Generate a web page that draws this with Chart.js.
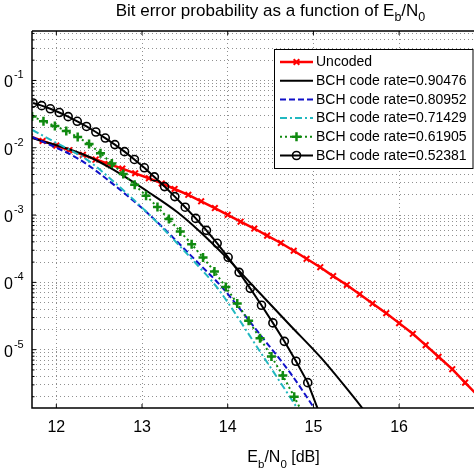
<!DOCTYPE html>
<html>
<head>
<meta charset="utf-8">
<title>Bit error probability</title>
<script src="https://cdn.jsdelivr.net/npm/chart.js@4.4.1/dist/chart.umd.min.js"></script>
<style>
  html, body { margin: 0; padding: 0; background: #fff; overflow: hidden; }
  #wrap { width: 474px; height: 474px; }
</style>
</head>
<body>
<div id="wrap"><canvas id="berChart" width="474" height="474"></canvas></div>
<script>
/* =======================
   DATA
======================= */
const seriesLabels = [
    "Uncoded",
    "BCH code rate=0.90476",
    "BCH code rate=0.80952",
    "BCH code rate=0.71429",
    "BCH code rate=0.61905",
    "BCH code rate=0.52381"
];

const uncodedX = [11.69, 11.84, 12.00, 12.15, 12.31, 12.46, 12.61, 12.77, 12.92, 13.08, 13.23, 13.38,
    13.54, 13.69, 13.85, 14.00, 14.15, 14.31, 14.46, 14.62, 14.77, 14.92, 15.08, 15.23, 15.39, 15.54,
    15.69, 15.85, 16.00, 16.16, 16.31, 16.46, 16.62, 16.77, 16.93];
const uncodedPe = [0.01479, 0.01262, 0.01076, 0.00920, 0.00785, 0.00671, 0.00574, 0.00491, 0.00417,
    0.00353, 0.00295, 0.00244, 0.00200, 0.00160, 0.00127, 0.00101, 7.98e-4, 6.31e-4, 4.95e-4, 3.85e-4,
    2.95e-4, 2.24e-4, 1.68e-4, 1.24e-4, 9.16e-5, 6.68e-5, 4.84e-5, 3.48e-5, 2.48e-5, 1.72e-5, 1.17e-5,
    7.85e-6, 5.13e-6, 3.24e-6, 2.00e-6];

const bch90X = [11.72, 12.36, 12.63, 13.09, 13.41, 13.68, 13.99, 14.34, 14.73, 15.08, 15.43, 15.57, 15.78];
const bch90Pe = [0.01400, 7.55e-3, 5.01e-3, 2.13e-3, 1.11e-3, 5.61e-4, 2.31e-4, 7.71e-5, 2.29e-5,
    7.80e-6, 2.28e-6, 1.36e-6, 6.0e-7];

const bch81X = [11.72, 12.28, 12.74, 13.09, 13.68, 13.93, 14.38, 14.73, 15.00, 15.19];
const bch81Pe = [0.01445, 6.58e-3, 2.40e-3, 1.00e-3, 1.81e-4, 8.55e-5, 1.66e-5, 4.51e-6, 1.41e-6, 6.0e-7];

const bch71X = [11.72, 12.04, 12.36, 12.72, 13.09, 13.68, 13.88, 14.38, 14.81, 14.96];
const bch71Pe = [0.01837, 0.01109, 6.61e-3, 2.75e-3, 1.00e-3, 1.62e-4, 8.26e-5, 9.25e-6, 1.36e-6, 6.9e-7];

const bch62X = [11.717, 11.850, 11.983, 12.116, 12.249, 12.382, 12.515, 12.648, 12.781, 12.914, 13.047,
    13.180, 13.313, 13.446, 13.579, 13.712, 13.845, 13.978, 14.111, 14.244, 14.377, 14.510, 14.643,
    14.776, 14.909];
const bch62Pe = [0.02911, 0.02483, 0.02109, 0.01770, 0.01445, 0.01135, 8.32e-3, 5.86e-3, 4.06e-3,
    2.81e-3, 1.94e-3, 1.32e-3, 8.71e-4, 5.69e-4, 3.70e-4, 2.34e-4, 1.45e-4, 8.51e-5, 4.84e-5, 2.69e-5,
    1.48e-5, 7.94e-6, 4.12e-6, 2.00e-6, 9.3e-7];

const bch52X = [11.728, 11.829, 11.930, 12.034, 12.138, 12.244, 12.352, 12.461, 12.571, 12.683, 12.796,
    12.911, 13.027, 13.144, 13.263, 13.383, 13.504, 13.627, 13.752, 13.877, 14.005, 14.133, 14.263,
    14.394, 14.527, 14.661, 14.797, 14.934, 15.072];
const bch52Pe = [0.04634, 0.04227, 0.03793, 0.03342, 0.02897, 0.02472, 0.02075, 0.01714, 0.01393,
    0.01114, 8.75e-3, 6.71e-3, 5.04e-3, 3.69e-3, 2.65e-3, 1.88e-3, 1.31e-3, 8.93e-4, 5.93e-4, 3.81e-4,
    2.36e-4, 1.41e-4, 8.15e-5, 4.57e-5, 2.50e-5, 1.33e-5, 6.73e-6, 3.24e-6, 1.12e-6];

const xTicks = [12, 13, 14, 15, 16];
const yTickExponents = [-1, -2, -3, -4, -5];
const yDecades = [1e-6, 1e-5, 1e-4, 1e-3, 1e-2, 1e-1];
const yMinorSteps = [1, 2, 3, 4, 5, 6, 7, 8, 9];

const X_MIN = 11.716, X_MAX = 16.874;
const Y_MIN = 1.36e-6, Y_MAX = 0.543;

const FONT = '"Liberation Sans", Arial, Helvetica, sans-serif';
const GRID_COLOR = "rgba(70,70,70,0.6)";

function toPoints(xs, ys) {
    return xs.map((x, i) => ({ x: x, y: ys[i] }));
}

/* log grid values (1..9 per decade) inside the axis range */
const yGridValues = [];
yDecades.forEach(d => {
    yMinorSteps.forEach(m => {
        const v = d * m;
        if (v >= Y_MIN && v <= Y_MAX) yGridValues.push(v);
    });
});

/* =======================
   TEXT HELPERS
======================= */
function richWidth(ctx, parts, size, subSize) {
    let w = 0;
    parts.forEach(p => {
        ctx.font = (p[1] ? subSize : size) + "px " + FONT;
        w += ctx.measureText(p[0]).width;
    });
    return w;
}

function drawRich(ctx, parts, cx, baseline, size, subSize, subShift) {
    let x = cx - richWidth(ctx, parts, size, subSize) / 2;
    ctx.textAlign = "left";
    ctx.textBaseline = "alphabetic";
    parts.forEach(p => {
        ctx.font = (p[1] ? subSize : size) + "px " + FONT;
        ctx.fillText(p[0], x, baseline + (p[1] ? subShift : 0));
        x += ctx.measureText(p[0]).width;
    });
}

/* =======================
   AXES BOX, LABELS, LEGEND
======================= */
const matlabFrame = {
    id: "matlabFrame",
    afterDraw(chart) {
        const ctx = chart.ctx;
        const area = chart.chartArea;
        const xs = chart.scales.x;
        const ys = chart.scales.y;

        ctx.save();
        ctx.fillStyle = "#000";
        ctx.strokeStyle = "#000";

        /* box */
        ctx.lineWidth = 1.5;
        ctx.beginPath();
        ctx.moveTo(area.left, area.top);
        ctx.lineTo(area.right + 2, area.top);
        ctx.moveTo(area.left, area.top);
        ctx.lineTo(area.left, area.bottom);
        ctx.lineTo(area.right + 2, area.bottom);
        ctx.stroke();

        /* tick marks (inside) */
        ctx.lineWidth = 1;
        ctx.beginPath();
        xTicks.forEach(v => {
            const px = xs.getPixelForValue(v);
            ctx.moveTo(px, area.bottom); ctx.lineTo(px, area.bottom - 4);
            ctx.moveTo(px, area.top); ctx.lineTo(px, area.top + 4);
        });
        yGridValues.forEach(v => {
            const py = ys.getPixelForValue(v);
            const major = yTickExponents.some(e => Math.abs(v - Math.pow(10, e)) < 1e-12);
            ctx.moveTo(area.left, py); ctx.lineTo(area.left + (major ? 4 : 2.5), py);
        });
        ctx.stroke();

        /* x tick labels */
        ctx.font = "16px " + FONT;
        ctx.textAlign = "center";
        ctx.textBaseline = "alphabetic";
        xTicks.forEach(v => {
            ctx.fillText(String(v), xs.getPixelForValue(v), 432);
        });

        /* y tick labels: 10^e, the leading "1" is cut off by the frame edge */
        yTickExponents.forEach(e => {
            const py = ys.getPixelForValue(Math.pow(10, e));
            ctx.textAlign = "left";
            ctx.font = "16px " + FONT;
            ctx.fillText("0", 4, py + 7);
            const w = ctx.measureText("0").width;
            ctx.font = "11px " + FONT;
            ctx.fillText(String(e), 4 + w + 1, py - 2);
        });

        /* title and axis label */
        drawRich(ctx, [["Bit error probability as a function of E", 0], ["b", 1], ["/N", 0], ["0", 1]],
            270.5, 16, 17, 12.5, 5);
        drawRich(ctx, [["E", 0], ["b", 1], ["/N", 0], ["0", 1], [" [dB]", 0]],
            283.5, 462, 16, 11.5, 6);

        /* legend */
        const lx = 274, ly = 49, lw = 200, lh = 119;
        ctx.fillStyle = "#fff";
        ctx.fillRect(lx, ly, lw, lh);
        ctx.lineWidth = 1;
        ctx.strokeStyle = "#000";
        ctx.strokeRect(lx + 0.5, ly + 0.5, lw - 1.5, lh);

        chart.data.datasets.forEach((ds, k) => {
            const cy = 62 + k * 18.7;
            ctx.save();
            ctx.strokeStyle = ds.borderColor;
            ctx.lineWidth = ds.borderWidth;
            ctx.setLineDash(ds.borderDash || []);
            ctx.beginPath();
            ctx.moveTo(280, cy);
            ctx.lineTo(313, cy);
            ctx.stroke();
            ctx.restore();
            if (ds.pointRadius > 0) {
                ctx.save();
                ctx.strokeStyle = ds.pointBorderColor;
                ctx.fillStyle = ds.pointBackgroundColor;
                ctx.lineWidth = ds.pointBorderWidth;
                ctx.setLineDash([]);
                Chart.helpers.drawPoint(ctx, {
                    pointStyle: ds.pointStyle,
                    radius: ds.pointRadius,
                    borderWidth: ds.pointBorderWidth,
                    rotation: 0
                }, 296.5, cy);
                ctx.restore();
            }
            ctx.fillStyle = "#000";
            ctx.font = "14px " + FONT;
            ctx.textAlign = "left";
            ctx.textBaseline = "middle";
            ctx.fillText(seriesLabels[k], 316, cy + 0.5);
        });

        ctx.restore();
    }
};

/* =======================
   CHART
======================= */
function lineSet(k, xs, ys, style) {
    return Object.assign({
        label: seriesLabels[k],
        data: toPoints(xs, ys),
        fill: false,
        clip: 0,
        borderWidth: 2,
        pointRadius: 0,
        pointHoverRadius: 0,
        pointBorderWidth: 1.5,
        pointBackgroundColor: "rgba(0,0,0,0)",
        order: 5 - k
    }, style);
}

new Chart(document.getElementById("berChart"), {
    type: "line",
    data: {
        datasets: [
            lineSet(0, uncodedX, uncodedPe, {
                borderColor: "#ff0000", borderWidth: 2.5,
                pointStyle: "crossRot", pointRadius: 4, pointBorderWidth: 2,
                pointBorderColor: "#ff0000"
            }),
            lineSet(1, bch90X, bch90Pe, {
                borderColor: "#000000", borderWidth: 2, cubicInterpolationMode: "monotone"
            }),
            lineSet(2, bch81X, bch81Pe, {
                borderColor: "#1010c8", borderWidth: 2, borderDash: [6, 3],
                cubicInterpolationMode: "monotone"
            }),
            lineSet(3, bch71X, bch71Pe, {
                borderColor: "#22b8c0", borderWidth: 2, borderDash: [7, 3, 2, 3],
                cubicInterpolationMode: "monotone"
            }),
            lineSet(4, bch62X, bch62Pe, {
                borderColor: "#108a10", borderWidth: 2, borderDash: [2, 3],
                pointStyle: "cross", pointRadius: 4.5, pointBorderWidth: 2.5,
                pointBorderColor: "#108a10"
            }),
            lineSet(5, bch52X, bch52Pe, {
                borderColor: "#000000", borderWidth: 2,
                pointStyle: "circle", pointRadius: 4, pointBorderWidth: 1.6,
                pointBorderColor: "#000000"
            })
        ]
    },
    options: {
        responsive: false,
        animation: false,
        layout: { autoPadding: false, padding: { top: 31, left: 0, right: 0, bottom: 0 } },
        plugins: {
            legend: { display: false },
            title: { display: false },
            tooltip: { enabled: false }
        },
        scales: {
            x: {
                type: "linear",
                min: X_MIN,
                max: X_MAX,
                afterBuildTicks: s => { s.ticks = xTicks.map(v => ({ value: v })); },
                afterFit: s => { s.height = 66; },
                ticks: { display: false },
                grid: { color: GRID_COLOR, lineWidth: 1, drawTicks: false },
                border: { display: false, dash: [1, 3] }
            },
            y: {
                type: "logarithmic",
                min: Y_MIN,
                max: Y_MAX,
                afterBuildTicks: s => { s.ticks = yGridValues.map(v => ({ value: v })); },
                afterFit: s => { s.width = 32; },
                ticks: { display: false },
                grid: { color: GRID_COLOR, lineWidth: 1, drawTicks: false },
                border: { display: false, dash: [1, 3] }
            }
        }
    },
    plugins: [matlabFrame]
});
</script>
</body>
</html>
